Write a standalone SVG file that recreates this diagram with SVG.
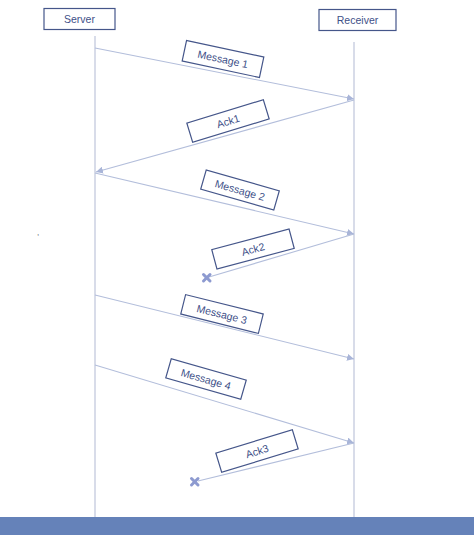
<svg xmlns="http://www.w3.org/2000/svg" width="474" height="535" viewBox="0 0 474 535">
<style>
.box{fill:#fff;stroke:#45568a;stroke-width:1.2}
.txt{font-family:"Liberation Sans",Arial,sans-serif;font-size:10.5px;fill:#3e5088;text-anchor:middle;dominant-baseline:central}
.life{stroke:#c3cadd;stroke-width:1.3;fill:none}
.msg{stroke:#b3bedb;stroke-width:1.1;fill:none}
.x{stroke:#8d9ad0;stroke-width:3;stroke-linecap:round}
</style>
<defs>
<marker id="ah" viewBox="0 0 10 10" refX="10" refY="5" markerWidth="7" markerHeight="7" markerUnits="userSpaceOnUse" orient="auto">
<path d="M0,0 L10,5 L0,10 z" fill="#a9b5d8"/>
</marker>
</defs>
<rect width="474" height="535" fill="#fff"/>
<g id="server">
<rect class="box" x="44" y="8.5" width="71" height="21"/>
<text class="txt" x="79.5" y="19">Server</text>
</g>
<g id="receiver">
<rect class="box" x="319" y="9.5" width="77" height="21"/>
<text class="txt" x="357.5" y="20">Receiver</text>
</g>
<g id="connectors">
<line class="life" x1="95" y1="36" x2="95" y2="517"/>
<line class="life" x1="354" y1="42" x2="354" y2="517"/>
<line class="msg" x1="95" y1="48" x2="354" y2="99" marker-end="url(#ah)"/>
<line class="msg" x1="354" y1="100" x2="96" y2="172" marker-end="url(#ah)"/>
<line class="msg" x1="95" y1="173" x2="354" y2="234" marker-end="url(#ah)"/>
<line class="msg" x1="354" y1="234" x2="209" y2="277"/>
<line class="msg" x1="95" y1="295" x2="354" y2="359" marker-end="url(#ah)"/>
<line class="msg" x1="95" y1="365" x2="354" y2="443" marker-end="url(#ah)"/>
<line class="msg" x1="354" y1="443" x2="198" y2="481"/>
</g>
<g id="lost2">
<line class="x" x1="203.5" y1="274.5" x2="210" y2="281"/>
<line class="x" x1="210" y1="274.5" x2="203.5" y2="281"/>
</g>
<g id="lost3">
<line class="x" x1="191.5" y1="478.5" x2="198" y2="485"/>
<line class="x" x1="198" y1="478.5" x2="191.5" y2="485"/>
</g>
<g id="message1" transform="translate(223,59) rotate(12)">
<rect class="box" x="-39.5" y="-10.5" width="79" height="21"/>
<text class="txt" x="0" y="0">Message 1</text>
</g>
<g id="ack1" transform="translate(228,121) rotate(-17)">
<rect class="box" x="-40" y="-10" width="80" height="20"/>
<text class="txt" x="0" y="0">Ack1</text>
</g>
<g id="message2" transform="translate(240,190) rotate(16)">
<rect class="box" x="-38" y="-10" width="76" height="20"/>
<text class="txt" x="0" y="0">Message 2</text>
</g>
<g id="ack2" transform="translate(253,249) rotate(-15)">
<rect class="box" x="-40" y="-10" width="80" height="20"/>
<text class="txt" x="0" y="0">Ack2</text>
</g>
<g id="message3" transform="translate(222,314) rotate(14)">
<rect class="box" x="-40" y="-10" width="80" height="20"/>
<text class="txt" x="0" y="0">Message 3</text>
</g>
<g id="message4" transform="translate(206,379) rotate(16)">
<rect class="box" x="-39" y="-10" width="78" height="20"/>
<text class="txt" x="0" y="0">Message 4</text>
</g>
<g id="ack3" transform="translate(257,451) rotate(-17)">
<rect class="box" x="-40" y="-10" width="80" height="20"/>
<text class="txt" x="0" y="0">Ack3</text>
</g>
<text x="37" y="235" font-family="Liberation Sans,Arial,sans-serif" font-size="8" fill="#555">,</text>
<rect x="0" y="517" width="474" height="18" fill="#6582b9"/>
</svg>
